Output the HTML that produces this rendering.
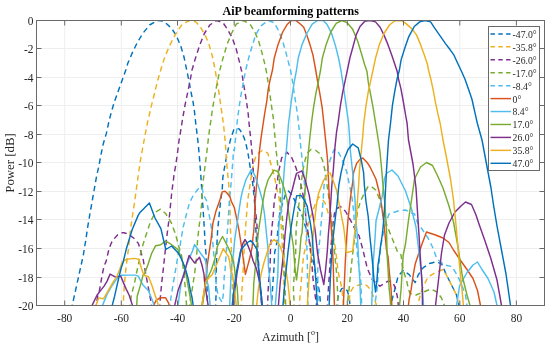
<!DOCTYPE html>
<html><head><meta charset="utf-8"><style>html,body{margin:0;padding:0;background:#fff;overflow:hidden}svg{display:block}</style></head>
<body><svg width="550" height="348" viewBox="0 0 550 348">
<defs><clipPath id="clip"><rect x="36.5" y="20.5" width="508.0" height="285.0"/></clipPath></defs>
<rect width="550" height="348" fill="#fff"/>
<g stroke="#eeeeee" stroke-width="1"><line x1="64.7" y1="20.5" x2="64.7" y2="305.5"/><line x1="121.3" y1="20.5" x2="121.3" y2="305.5"/><line x1="177.5" y1="20.5" x2="177.5" y2="305.5"/><line x1="234.2" y1="20.5" x2="234.2" y2="305.5"/><line x1="290.5" y1="20.5" x2="290.5" y2="305.5"/><line x1="347.3" y1="20.5" x2="347.3" y2="305.5"/><line x1="403.5" y1="20.5" x2="403.5" y2="305.5"/><line x1="459.8" y1="20.5" x2="459.8" y2="305.5"/><line x1="516.4" y1="20.5" x2="516.4" y2="305.5"/><line x1="36.5" y1="48.5" x2="544.5" y2="48.5"/><line x1="36.5" y1="77.5" x2="544.5" y2="77.5"/><line x1="36.5" y1="105.5" x2="544.5" y2="105.5"/><line x1="36.5" y1="134.5" x2="544.5" y2="134.5"/><line x1="36.5" y1="162.5" x2="544.5" y2="162.5"/><line x1="36.5" y1="191.5" x2="544.5" y2="191.5"/><line x1="36.5" y1="219.5" x2="544.5" y2="219.5"/><line x1="36.5" y1="248.5" x2="544.5" y2="248.5"/><line x1="36.5" y1="277.5" x2="544.5" y2="277.5"/></g>
<g clip-path="url(#clip)" fill="none" stroke-width="1.45" stroke-linejoin="round"><polyline points="72.0,310.0 72.1,305.9 73.7,298.7 76.9,284.2 80.1,269.7 83.3,255.2 85.9,239.3 87.6,227.6 89.8,214.5 92.0,202.2 96.7,175.5 98.7,167.0 101.0,154.6 103.3,143.7 106.5,132.9 108.8,122.0 111.0,113.4 114.1,102.6 118.0,91.7 121.9,80.9 125.8,70.0 127.9,63.0 132.6,52.1 137.2,42.8 142.7,33.5 149.6,25.0 157.4,20.5 163.6,21.1 171.4,28.1 176.0,35.0 180.7,45.9 184.0,57.0 186.7,70.0 189.0,80.9 190.6,90.2 192.9,101.0 194.5,111.9 195.6,122.0 196.9,132.9 198.4,145.3 199.7,160.9 200.8,174.8 201.6,187.2 202.0,196.5 202.8,204.7 203.6,217.1 204.4,229.5 205.0,242.5 205.9,252.7 206.5,265.5 207.0,285.0 207.5,310.0" stroke="#0072BD" stroke-dasharray="5.5,3.8"/><polyline points="215.3,310.0 215.6,305.2 216.1,294.1 215.9,285.1 216.1,274.4 216.7,255.3 216.8,246.5 217.6,231.0 219.1,215.5 220.7,200.0 222.2,190.3 222.8,177.9 224.3,168.6 226.7,156.2 228.8,146.4 231.0,137.7 233.7,130.0 234.8,128.7 239.2,128.9 241.4,132.2 244.1,137.7 246.3,145.3 248.2,154.5 249.9,165.5 252.2,179.5 253.8,193.4 254.6,202.7 255.8,228.0 256.9,252.0 258.5,267.5 260.0,283.0 261.6,298.5 262.0,310.0" stroke="#0072BD" stroke-dasharray="5.5,3.8"/><polyline points="271.2,310.0 271.6,303.2 272.9,283.0 274.0,267.5 274.7,252.0 276.3,246.5 277.8,231.0 279.4,215.5 282.0,205.0 285.6,194.1 288.5,191.0 292.0,195.0 296.0,203.0 298.9,208.7 300.7,211.4 302.6,217.0 305.3,226.1 307.2,230.7 308.5,236.2 312.0,255.0 316.0,275.0 319.5,292.0 320.5,304.0 321.0,310.0" stroke="#0072BD" stroke-dasharray="5.5,3.8"/><polyline points="336.0,310.0 338.5,294.3 341.8,288.6 344.3,287.8 347.5,291.1 349.2,297.6 350.5,310.0" stroke="#0072BD" stroke-dasharray="5.5,3.8"/><polyline points="389.5,310.0 392.0,300.0 395.1,288.2 397.6,278.1 400.1,274.1 403.2,270.6 406.2,272.6 409.2,274.6 412.2,278.6 415.2,282.6 418.2,275.1 421.2,270.1 423.3,267.6 429.5,263.5 435.5,262.0 441.5,263.5 446.0,274.0 452.0,286.0 456.5,295.0 459.0,305.5 460.0,310.0" stroke="#0072BD" stroke-dasharray="5.5,3.8"/><polyline points="123.0,310.0 123.2,305.1 123.6,297.1 124.4,284.2 126.0,268.1 127.6,255.2 128.4,249.5 130.5,229.1 132.7,214.5 134.9,200.0 138.2,175.5 140.6,159.2 142.9,146.8 145.2,134.4 147.6,122.0 149.5,114.0 151.4,105.7 154.5,93.3 157.6,80.9 160.7,70.0 165.1,56.0 170.6,43.6 176.0,33.5 182.2,24.2 189.7,20.5 195.9,21.9 200.5,27.3 205.2,35.1 209.0,44.4 212.1,55.2 215.0,69.0 217.0,80.9 219.3,94.8 220.8,105.7 222.4,116.5 223.6,125.0 224.5,134.4 225.6,146.8 226.4,159.2 227.6,173.2 228.4,180.0 229.0,188.8 229.8,202.7 230.1,215.5 230.5,231.0 231.2,243.0 231.5,254.6 232.0,275.0 232.5,295.0 232.8,310.0" stroke="#EDB120" stroke-dasharray="5.5,3.8"/><polyline points="241.0,310.0 241.4,303.2 241.9,290.8 242.9,275.3 243.5,260.0 244.3,249.0 245.3,231.0 246.5,215.5 247.6,201.0 249.9,185.7 252.2,170.2 255.3,157.8 258.0,153.5 262.3,150.5 267.8,153.1 270.9,164.0 274.0,174.8 276.3,185.7 277.8,193.0 279.1,198.1 280.5,215.0 282.0,240.0 283.5,270.0 284.5,310.0" stroke="#EDB120" stroke-dasharray="5.5,3.8"/><polyline points="299.5,310.0 299.6,301.6 300.0,296.0 301.1,283.0 302.3,269.6 303.5,256.0 305.4,247.9 307.0,229.3 309.5,219.0 311.8,213.7 314.7,205.7 318.6,197.1 321.0,197.5 324.8,202.6 327.9,211.9 330.2,221.2 333.0,235.0 334.9,244.8 336.5,257.2 338.0,271.2 340.0,280.0 341.8,287.8 343.4,302.5 343.8,310.0" stroke="#EDB120" stroke-dasharray="5.5,3.8"/><polyline points="348.5,310.0 350.0,292.7 354.1,286.1 358.2,285.3 363.1,283.7 366.4,285.3 370.5,289.4 373.8,297.6 376.2,304.2 377.0,310.0" stroke="#EDB120" stroke-dasharray="5.5,3.8"/><polyline points="416.5,310.0 417.5,305.5 422.0,289.0 428.0,277.0 435.5,272.5 443.0,269.5 447.5,277.0 452.0,286.0 456.5,295.0 459.0,305.5 459.8,310.0" stroke="#EDB120" stroke-dasharray="5.5,3.8"/><polyline points="95.5,310.0 96.2,305.1 97.8,295.5 99.1,292.2 100.6,284.1 102.1,275.1 104.1,266.0 106.1,261.4 108.5,251.0 110.5,245.0 112.4,240.7 117.5,234.9 122.5,232.7 124.2,232.8 128.4,234.2 134.2,238.5 138.5,243.6 141.3,253.4 143.1,259.0 145.4,272.2 147.8,284.6 150.1,297.0 151.6,305.5 152.0,310.0" stroke="#7E2F8E" stroke-dasharray="5.5,3.8"/><polyline points="159.5,310.0 159.9,304.7 160.5,295.4 161.7,283.0 163.3,269.1 164.8,255.1 166.4,240.3 167.9,227.9 169.5,215.5 171.0,200.0 171.8,191.9 173.3,181.0 173.9,175.5 175.7,165.5 177.5,153.0 179.0,140.6 180.6,131.3 182.4,120.0 185.2,104.1 187.5,93.3 189.8,82.4 192.0,70.0 195.9,56.8 199.7,45.1 204.4,33.5 209.8,25.0 216.8,20.5 223.0,22.7 227.7,29.6 232.3,38.2 236.2,49.0 239.3,61.4 241.7,71.5 243.3,82.4 244.9,91.7 246.4,101.0 248.0,111.9 249.6,128.9 250.7,137.7 251.4,146.4 252.3,155.2 253.0,165.5 253.8,181.0 254.6,193.4 255.3,209.3 256.9,223.3 257.4,238.8 258.0,252.7 259.0,270.0 260.0,285.0 261.0,298.5 261.6,305.5 262.0,310.0" stroke="#7E2F8E" stroke-dasharray="5.5,3.8"/><polyline points="267.5,310.0 267.8,298.5 268.5,283.0 270.1,267.5 270.5,248.0 271.6,231.0 273.2,215.5 274.1,203.1 275.6,193.1 277.1,183.0 278.6,171.7 281.7,157.8 287.1,152.3 291.8,157.8 295.7,167.1 298.8,176.4 301.1,185.7 303.4,196.5 305.3,211.4 306.2,220.6 307.6,229.8 308.5,235.5 310.1,247.9 311.6,260.3 313.1,279.6 314.8,292.7 316.4,304.2 316.6,310.0" stroke="#7E2F8E" stroke-dasharray="5.5,3.8"/><polyline points="327.0,310.0 329.0,280.0 331.5,240.0 333.2,221.7 334.5,213.4 337.0,208.5 340.5,206.5 345.6,211.5 348.3,216.1 351.5,222.1 354.3,227.8 358.9,235.5 362.0,246.4 365.1,258.8 367.2,268.1 372.0,279.1 376.0,283.1 380.0,286.2 384.1,283.6 388.1,281.1 392.1,281.6 395.1,287.2 397.0,295.0 398.0,301.0 398.5,310.0" stroke="#7E2F8E" stroke-dasharray="5.5,3.8"/><polyline points="129.5,310.0 131.2,296.2 132.7,290.1 134.7,282.1 136.7,272.0 138.3,265.0 141.3,250.0 145.3,237.3 150.4,222.0 155.4,212.1 160.5,209.2 165.6,213.5 171.2,222.5 175.6,234.5 178.8,246.5 181.5,255.4 183.5,270.0 185.5,290.0 186.5,305.0 187.0,310.0" stroke="#77AC30" stroke-dasharray="5.5,3.8"/><polyline points="189.3,310.0 189.6,303.2 191.2,295.4 193.0,284.0 194.5,274.4 195.6,265.1 196.6,257.0 197.4,241.9 198.9,227.9 200.5,215.5 202.0,200.0 202.0,190.3 203.6,177.9 205.1,165.5 206.7,153.1 208.5,137.5 210.1,125.1 210.8,121.2 212.3,110.3 214.6,96.4 217.0,84.0 219.7,70.5 223.8,55.2 227.7,42.8 231.5,33.5 236.2,24.2 243.2,20.5 250.1,24.2 254.8,32.0 258.7,41.3 261.8,52.1 264.9,64.5 266.4,71.5 268.6,85.5 270.2,96.4 271.7,107.2 273.3,118.1 274.4,131.1 275.3,139.9 276.1,149.7 277.1,159.3 278.6,173.3 279.8,185.0 280.3,195.1 280.8,205.1 282.2,215.5 283.3,231.0 284.0,246.5 284.0,267.5 284.8,283.0 285.6,303.2 285.8,310.0" stroke="#77AC30" stroke-dasharray="5.5,3.8"/><polyline points="293.8,310.0 294.1,303.2 293.4,287.7 294.5,270.0 295.7,252.7 296.1,228.9 297.1,219.7 298.0,210.5 299.2,202.1 300.2,193.1 301.2,183.0 303.3,168.0 305.4,158.8 307.8,152.6 310.9,149.5 315.5,150.2 319.4,153.3 322.5,160.3 324.8,169.6 325.5,176.2 327.1,185.5 328.7,196.4 331.0,215.0 333.0,235.0 334.9,255.7 336.9,276.3 337.7,296.0 338.0,310.0" stroke="#77AC30" stroke-dasharray="5.5,3.8"/><polyline points="347.0,310.0 347.5,302.5 349.2,287.8 350.8,271.4 352.5,255.0 353.5,247.9 355.1,232.4 357.4,211.9 360.5,201.0 364.4,193.3 368.2,186.3 372.1,187.1 376.0,190.2 379.1,197.9 382.0,210.0 386.0,223.0 392.0,238.0 398.0,253.0 401.1,255.0 402.2,265.0 404.2,273.1 406.7,281.1 408.2,288.2 410.0,293.5 416.0,295.0 423.5,292.0 431.0,289.0 437.0,292.0 441.5,298.0 444.5,305.5 445.0,310.0" stroke="#77AC30" stroke-dasharray="5.5,3.8"/><polyline points="170.0,310.0 170.2,304.7 171.0,297.0 173.3,283.0 175.7,269.1 178.0,255.1 179.6,249.6 181.1,238.8 183.4,226.4 186.5,214.0 189.6,202.5 193.5,195.0 198.9,188.0 202.0,187.2 203.6,195.0 206.7,201.0 209.0,214.0 211.4,227.9 212.9,244.0 214.2,259.1 215.5,274.4 216.1,283.3 218.0,295.0 220.1,299.1 222.2,302.2 223.2,295.1 223.7,287.1 224.2,277.0 225.0,270.5 225.8,259.1 226.5,249.5 226.8,240.0 227.4,231.0 228.5,215.5 229.4,200.0 229.8,196.5 231.3,181.0 232.5,165.5 233.6,150.0 234.3,150.8 235.4,139.9 236.5,131.1 237.2,121.5 239.1,107.2 241.0,94.8 243.3,82.4 245.7,70.0 248.6,58.3 251.7,47.5 255.6,35.1 261.0,25.8 268.0,20.5 274.2,22.7 278.9,31.2 282.7,41.3 285.8,52.1 288.2,61.4 290.5,70.0 292.7,82.4 294.2,93.3 296.2,105.7 297.8,116.5 298.4,122.7 300.0,137.1 300.8,147.9 302.3,160.3 303.3,170.0 304.5,185.0 305.5,205.0 306.2,227.8 306.8,245.0 307.4,265.0 307.4,279.6 307.8,300.0 308.0,310.0" stroke="#4DBEEE" stroke-dasharray="5.5,3.8"/><polyline points="318.5,310.0 317.8,290.0 317.8,266.5 318.6,251.0 320.2,235.5 321.4,219.7 322.3,210.5 323.3,197.9 324.0,185.5 326.0,175.0 328.7,165.0 331.0,157.2 334.1,149.5 337.2,150.2 341.1,157.2 344.2,165.0 346.5,171.2 349.6,185.5 352.0,197.9 353.5,210.3 354.3,221.2 356.0,240.0 358.0,260.0 360.7,279.6 361.5,300.9 362.0,310.0" stroke="#4DBEEE" stroke-dasharray="5.5,3.8"/><polyline points="374.0,310.0 377.0,290.0 379.0,263.0 381.0,245.0 384.5,227.0 389.0,214.0 392.0,213.0 398.0,211.0 405.5,210.0 411.5,213.0 414.5,214.0 417.5,222.5 422.0,229.0 428.0,238.0 432.5,247.0 437.0,259.0 444.5,265.0 452.0,266.5 456.5,274.0 461.0,283.0 465.5,295.0 467.0,305.5 467.5,310.0" stroke="#4DBEEE" stroke-dasharray="5.5,3.8"/><polyline points="153.0,310.0 154.7,303.2 156.3,300.1 160.2,297.8 165.6,297.8 168.7,303.2 170.0,310.0" stroke="#D95319"/><polyline points="201.5,310.0 202.0,305.2 204.0,292.1 205.5,282.0 207.2,265.5 209.1,252.7 211.0,240.0 212.9,223.3 216.0,210.9 219.9,200.0 222.2,191.9 225.0,191.3 226.7,192.7 229.8,196.5 231.3,201.2 234.4,207.8 236.7,218.6 239.1,231.0 240.8,242.0 242.4,252.7 243.5,260.0 245.4,274.4 248.5,262.9 250.5,255.0 252.2,246.4 253.0,237.0 253.8,231.0 254.6,215.5 255.1,203.0 256.9,181.0 258.5,165.5 259.1,154.1 260.0,146.4 261.1,137.7 262.7,126.7 263.2,123.5 264.7,113.4 266.8,101.0 268.3,88.6 270.2,79.3 272.5,70.0 274.2,58.3 278.1,44.4 282.7,32.0 287.4,24.2 291.3,20.5 295.9,20.5 300.6,24.2 303.7,27.3 306.8,35.1 309.9,44.4 313.0,55.2 315.6,69.5 317.5,80.9 319.8,93.3 322.1,107.2 323.5,120.0 324.8,132.4 326.4,147.9 327.6,160.3 328.2,172.7 328.7,185.5 329.5,201.0 330.6,218.0 331.8,235.5 332.6,251.0 333.3,266.5 333.6,279.6 334.4,304.2 334.6,310.0" stroke="#D95319"/><polyline points="343.0,310.0 343.4,304.2 344.5,280.0 345.3,262.0 346.0,250.0 346.8,235.5 348.0,220.0 350.4,197.9 352.7,182.4 353.5,172.7 356.6,163.4 359.7,159.6 362.8,158.0 366.7,161.9 369.8,166.5 372.9,172.7 376.0,179.3 379.1,191.7 381.4,204.1 383.0,216.5 384.5,229.0 386.5,250.0 388.1,257.0 389.6,275.1 391.1,289.2 392.0,310.0" stroke="#D95319"/><polyline points="408.0,310.0 409.0,300.0 411.2,289.2 413.2,275.1 415.2,264.0 418.2,255.0 422.0,244.0 426.5,232.0 435.5,235.0 443.0,238.0 449.0,242.5 453.5,250.0 459.5,259.0 467.0,269.5 473.0,278.5 477.5,290.5 480.5,305.5 481.0,310.0" stroke="#D95319"/><polyline points="101.0,310.0 102.6,305.1 107.1,294.2 111.1,287.1 115.1,281.1 119.2,276.1 121.2,275.3 128.2,275.1 135.2,275.1 138.3,276.1 140.3,280.1 143.0,285.1 148.5,290.8 151.6,298.5 154.0,304.7 154.5,310.0" stroke="#4DBEEE"/><polyline points="177.5,310.0 179.0,298.0 181.0,284.0 185.0,269.0 189.0,259.0 192.5,251.0 194.5,244.5 200.2,252.7 204.0,257.8 205.9,261.6 206.5,270.5 207.5,283.0 208.6,287.1 210.1,305.2 210.5,310.0" stroke="#4DBEEE"/><polyline points="229.5,310.0 229.7,305.2 230.7,282.0 231.3,267.5 232.8,259.1 233.8,249.5 234.7,240.0 236.0,231.0 238.3,215.5 240.6,200.0 242.2,191.9 246.0,179.5 251.5,169.4 255.3,176.4 259.2,188.8 262.3,199.6 264.7,215.5 266.2,231.0 267.8,246.5 268.5,267.5 270.1,283.0 271.6,303.2 272.0,310.0" stroke="#4DBEEE"/><polyline points="275.0,310.0 275.5,303.2 277.8,275.3 278.5,250.0 278.6,231.0 279.7,215.5 281.1,213.2 282.1,200.1 283.1,186.0 284.8,162.4 286.4,150.0 288.5,123.5 289.6,115.0 291.1,102.6 292.7,91.7 294.2,82.4 296.5,70.0 298.2,58.3 302.1,44.4 306.8,33.5 312.2,24.2 317.6,20.5 323.1,20.5 326.9,24.2 331.6,33.5 335.5,45.9 338.6,58.3 340.9,70.0 342.8,82.4 344.6,94.8 346.6,108.8 348.6,123.5 349.5,135.5 350.4,151.0 352.0,166.5 353.5,180.0 355.0,200.0 355.8,220.0 357.4,235.5 358.2,251.0 358.9,266.5 359.8,279.6 360.7,304.2 361.0,310.0" stroke="#4DBEEE"/><polyline points="371.5,310.0 372.3,290.0 372.9,266.5 374.1,251.0 375.2,235.5 376.0,221.0 379.1,208.8 382.2,196.4 384.5,178.0 387.0,173.0 392.0,170.0 398.0,176.0 405.5,191.0 411.5,209.0 416.0,227.0 419.0,253.0 421.0,270.0 422.0,280.0 423.5,305.5 424.0,310.0" stroke="#4DBEEE"/><polyline points="456.0,310.0 456.5,305.5 459.5,286.0 467.0,272.5 473.0,265.0 477.5,262.0 482.0,269.5 488.0,278.5 494.0,292.0 497.0,305.5 497.5,310.0" stroke="#4DBEEE"/><polyline points="136.5,310.0 137.2,296.2 139.3,289.1 141.3,282.1 143.0,275.1 144.7,273.7 148.5,262.9 151.6,253.5 155.5,245.8 160.2,245.0 165.6,241.1 171.0,244.2 178.0,249.6 181.5,258.5 185.0,269.1 187.3,281.5 189.6,293.9 191.2,303.2 191.5,310.0" stroke="#77AC30"/><polyline points="201.5,310.0 202.5,305.0 204.0,295.0 205.1,287.1 206.5,280.7 211.6,269.3 214.8,259.1 217.4,246.4 220.5,240.0 222.5,236.5 224.4,240.0 228.2,247.6 230.9,254.0 233.5,261.6 234.5,268.0 235.5,278.2 237.2,287.1 238.2,305.2 238.5,310.0" stroke="#77AC30"/><polyline points="252.5,310.0 253.0,303.2 253.8,283.0 255.3,267.5 256.2,259.1 256.9,246.5 258.5,231.0 260.8,215.5 263.0,201.0 265.0,190.0 268.0,180.0 270.1,176.4 274.0,170.2 277.8,171.7 281.7,181.0 284.6,190.0 287.1,200.1 289.0,215.5 291.0,231.0 293.4,246.5 294.9,267.5 296.5,279.9 298.0,267.5 299.8,252.0 301.0,237.0 302.1,232.6 303.0,218.8 303.9,205.0 305.4,185.5 307.0,170.0 308.5,151.0 310.1,135.5 311.7,121.2 313.6,107.2 315.9,93.3 318.2,82.4 320.6,70.0 322.3,58.3 326.2,44.4 330.8,32.0 336.2,23.4 341.7,20.5 347.1,22.7 352.5,28.9 357.7,41.3 361.5,53.7 364.6,64.5 367.0,71.5 368.3,82.4 370.7,94.8 373.0,107.2 375.4,122.0 377.6,135.5 379.9,151.0 381.4,166.5 383.0,185.5 385.0,205.0 386.5,230.0 387.1,255.0 388.1,270.1 389.1,288.2 390.0,296.0 391.0,310.0" stroke="#77AC30"/><polyline points="399.0,310.0 399.5,305.5 401.1,289.2 402.2,270.1 403.2,255.0 405.5,244.0 408.5,220.0 411.5,200.0 414.5,179.0 420.5,167.0 426.5,162.5 432.5,165.5 437.0,174.5 443.0,188.0 449.0,206.0 453.5,222.0 458.0,247.0 462.5,277.0 467.0,295.0 470.0,305.5 470.5,310.0" stroke="#77AC30"/><polyline points="92.0,310.0 92.2,305.1 97.0,295.2 100.1,291.1 104.1,286.1 107.1,281.1 110.1,274.1 115.6,277.1 118.2,276.6 120.7,276.1 123.2,282.1 126.2,289.1 129.2,295.2 132.4,305.1 133.0,310.0" stroke="#7E2F8E"/><polyline points="174.0,310.0 174.9,304.7 178.0,290.8 181.9,279.9 184.1,274.1 187.1,262.1 189.1,255.5 194.5,262.9 199.5,257.2 202.1,265.5 204.0,274.4 204.6,282.0 206.1,292.1 208.1,305.2 208.6,310.0" stroke="#7E2F8E"/><polyline points="233.0,310.0 233.2,305.2 235.2,287.1 237.2,272.0 238.4,265.5 240.9,250.2 243.0,243.2 245.0,239.5 246.2,241.3 248.7,247.6 251.3,254.6 253.2,261.0 256.2,268.0 258.7,278.2 261.0,292.0 262.5,310.0" stroke="#7E2F8E"/><polyline points="278.0,310.0 278.6,303.2 280.2,283.0 282.0,267.5 283.8,250.0 285.0,235.0 287.1,215.0 289.1,200.1 292.2,190.0 294.7,180.0 296.5,173.3 301.9,170.9 305.2,180.0 309.2,195.1 310.8,205.0 312.7,214.2 314.1,223.4 315.4,232.6 317.5,253.0 320.5,270.0 323.8,284.5 325.4,271.4 326.5,260.0 327.3,251.0 328.3,235.3 329.7,218.8 330.6,205.0 331.8,185.5 333.3,170.0 334.9,147.9 336.5,132.4 338.1,122.7 340.4,105.7 342.8,91.7 345.1,80.9 347.4,70.0 350.0,57.5 353.0,46.7 356.1,35.1 360.0,26.5 364.6,21.4 370.1,20.5 375.5,21.9 380.1,27.3 384.0,35.1 387.9,44.4 391.8,55.2 394.9,64.5 397.2,71.5 398.6,79.3 400.9,88.6 403.2,101.0 405.6,115.0 407.1,123.5 408.5,140.0 413.0,164.0 416.0,188.0 417.5,212.0 419.0,235.0 420.2,255.0 421.2,270.1 422.3,289.2 422.5,310.0" stroke="#7E2F8E"/><polyline points="435.0,310.0 435.5,305.5 438.5,280.0 441.5,253.0 444.5,235.0 449.0,223.0 455.0,212.0 461.0,206.0 465.5,202.0 471.5,204.5 476.0,215.0 479.0,224.0 485.0,241.0 491.0,259.0 497.0,280.0 501.5,305.5 502.0,310.0" stroke="#7E2F8E"/><polyline points="95.0,310.0 96.2,305.1 98.6,297.9 103.5,298.7 105.1,296.2 109.1,289.1 113.1,282.1 117.1,276.1 120.2,268.0 122.2,262.0 126.8,259.2 134.0,258.4 138.9,259.2 141.3,268.0 143.9,275.3 148.5,276.8 151.6,284.6 154.7,293.9 157.8,303.2 158.5,310.0" stroke="#EDB120"/><polyline points="201.5,310.0 202.0,305.2 204.0,292.1 205.6,282.0 207.5,279.5 212.3,274.4 216.7,264.2 220.5,255.3 223.3,248.6 225.8,252.7 228.4,256.5 229.6,261.0 230.5,269.1 232.6,275.0 234.2,287.1 236.2,305.2 236.5,310.0" stroke="#EDB120"/><polyline points="256.0,310.0 256.9,303.2 258.5,287.7 260.8,275.3 263.9,262.9 267.0,252.7 270.1,243.4 274.0,239.6 277.1,241.9 280.2,246.5 282.5,252.7 285.6,267.5 287.9,283.0 289.5,298.5 290.2,310.0" stroke="#EDB120"/><polyline points="307.0,310.0 307.4,304.2 309.0,279.6 310.1,266.5 311.6,251.0 313.2,235.5 314.0,225.0 315.4,214.2 316.4,205.0 318.6,193.3 323.3,180.9 327.9,173.9 330.2,173.1 333.3,180.9 336.5,190.2 339.3,205.0 340.7,211.4 342.0,218.8 343.5,226.0 344.7,235.5 346.5,252.6 352.7,251.0 354.3,235.5 355.8,226.0 356.4,216.5 357.4,201.0 358.6,185.5 359.5,170.0 361.3,151.0 362.8,135.5 363.7,123.5 366.0,105.7 368.3,91.7 370.7,80.9 373.0,70.0 375.5,58.3 379.4,44.4 384.0,33.5 389.5,25.0 394.9,20.8 401.1,20.5 405.7,23.4 412.0,28.9 416.6,35.1 420.5,44.4 424.4,55.2 427.5,64.5 428.5,70.0 430.9,79.3 433.2,90.2 435.5,102.6 437.8,113.4 440.2,123.5 443.0,140.0 446.0,155.0 450.5,179.0 453.5,200.0 456.5,230.0 459.5,265.0 462.5,295.0 463.4,305.5 464.0,310.0" stroke="#EDB120"/><polyline points="111.5,310.0 112.3,305.1 114.6,296.2 117.1,285.1 119.2,276.1 121.2,268.0 123.2,262.0 126.2,249.3 132.3,229.2 138.3,215.1 140.0,212.4 149.4,203.0 155.0,218.0 160.9,228.7 165.8,249.5 171.6,246.0 178.0,252.7 181.1,258.2 185.0,267.5 188.1,278.4 190.4,290.8 192.0,297.1 193.0,304.2 193.5,310.0" stroke="#0072BD"/><polyline points="231.8,310.0 232.2,305.2 234.2,287.1 236.5,272.0 238.5,261.6 240.5,251.5 243.6,246.4 247.5,242.5 250.6,240.6 252.6,242.5 255.1,246.4 257.0,249.5 258.5,267.5 260.0,283.0 261.6,298.5 262.5,310.0" stroke="#0072BD"/><polyline points="282.5,310.0 283.3,301.6 284.8,283.0 286.4,267.5 288.0,252.0 289.5,240.0 291.0,227.9 292.9,216.0 294.8,205.0 296.7,195.6 301.2,195.6 304.2,200.1 307.2,206.1 308.5,214.2 310.4,223.4 312.2,235.3 313.2,251.0 314.8,266.5 315.8,280.0 317.2,304.2 317.6,310.0" stroke="#0072BD"/><polyline points="329.0,310.0 329.2,304.2 330.3,279.6 331.0,266.5 331.8,251.0 333.4,235.3 335.2,218.8 337.0,205.0 338.8,185.5 341.1,172.7 344.2,158.8 348.1,149.5 352.7,144.0 358.2,147.9 361.3,160.3 363.6,172.7 364.4,185.5 365.9,201.0 368.2,216.5 369.8,235.5 371.4,251.0 372.9,266.5 374.0,280.0 375.5,292.0 377.0,279.6 378.0,265.0 379.5,255.0 380.7,245.0 382.2,235.5 383.8,220.0 385.0,200.0 386.5,170.0 388.5,140.0 390.5,123.5 392.4,105.7 394.7,91.7 397.0,79.3 399.4,70.0 401.1,59.9 405.0,47.5 408.8,36.6 414.3,26.5 419.7,21.9 425.1,20.5 430.6,21.9 434.7,28.1 440.1,35.8 445.5,43.6 450.2,49.8 454.0,55.2 457.9,63.8 461.8,72.0 465.0,79.3 468.9,90.2 472.0,99.5 475.1,113.4 477.4,123.5 482.0,140.0 486.5,164.0 491.0,188.0 493.5,205.0 497.0,226.0 501.5,250.0 506.0,274.0 510.5,305.5 511.0,310.0" stroke="#0072BD"/></g>
<g stroke="#6a6a6a" stroke-width="1" fill="none"><rect x="36.5" y="20.5" width="508.0" height="285.0" fill="none"/><line x1="64.70" y1="305.5" x2="64.70" y2="300.5"/><line x1="64.70" y1="20.5" x2="64.70" y2="25.5"/><line x1="121.30" y1="305.5" x2="121.30" y2="300.5"/><line x1="121.30" y1="20.5" x2="121.30" y2="25.5"/><line x1="177.50" y1="305.5" x2="177.50" y2="300.5"/><line x1="177.50" y1="20.5" x2="177.50" y2="25.5"/><line x1="234.20" y1="305.5" x2="234.20" y2="300.5"/><line x1="234.20" y1="20.5" x2="234.20" y2="25.5"/><line x1="290.50" y1="305.5" x2="290.50" y2="300.5"/><line x1="290.50" y1="20.5" x2="290.50" y2="25.5"/><line x1="347.30" y1="305.5" x2="347.30" y2="300.5"/><line x1="347.30" y1="20.5" x2="347.30" y2="25.5"/><line x1="403.50" y1="305.5" x2="403.50" y2="300.5"/><line x1="403.50" y1="20.5" x2="403.50" y2="25.5"/><line x1="459.80" y1="305.5" x2="459.80" y2="300.5"/><line x1="459.80" y1="20.5" x2="459.80" y2="25.5"/><line x1="516.40" y1="305.5" x2="516.40" y2="300.5"/><line x1="516.40" y1="20.5" x2="516.40" y2="25.5"/><line x1="36.5" y1="48.50" x2="41.5" y2="48.50"/><line x1="544.5" y1="48.50" x2="539.5" y2="48.50"/><line x1="36.5" y1="77.50" x2="41.5" y2="77.50"/><line x1="544.5" y1="77.50" x2="539.5" y2="77.50"/><line x1="36.5" y1="105.50" x2="41.5" y2="105.50"/><line x1="544.5" y1="105.50" x2="539.5" y2="105.50"/><line x1="36.5" y1="134.50" x2="41.5" y2="134.50"/><line x1="544.5" y1="134.50" x2="539.5" y2="134.50"/><line x1="36.5" y1="162.50" x2="41.5" y2="162.50"/><line x1="544.5" y1="162.50" x2="539.5" y2="162.50"/><line x1="36.5" y1="191.50" x2="41.5" y2="191.50"/><line x1="544.5" y1="191.50" x2="539.5" y2="191.50"/><line x1="36.5" y1="219.50" x2="41.5" y2="219.50"/><line x1="544.5" y1="219.50" x2="539.5" y2="219.50"/><line x1="36.5" y1="248.50" x2="41.5" y2="248.50"/><line x1="544.5" y1="248.50" x2="539.5" y2="248.50"/><line x1="36.5" y1="277.50" x2="41.5" y2="277.50"/><line x1="544.5" y1="277.50" x2="539.5" y2="277.50"/></g>
<g font-family="Liberation Serif, serif" font-size="12" fill="#262626"><text transform="translate(64.7,321.8) scale(0.95,1.12)" text-anchor="middle">-80</text><text transform="translate(121.3,321.8) scale(0.95,1.12)" text-anchor="middle">-60</text><text transform="translate(177.5,321.8) scale(0.95,1.12)" text-anchor="middle">-40</text><text transform="translate(234.2,321.8) scale(0.95,1.12)" text-anchor="middle">-20</text><text transform="translate(290.5,321.8) scale(0.95,1.12)" text-anchor="middle">0</text><text transform="translate(347.3,321.8) scale(0.95,1.12)" text-anchor="middle">20</text><text transform="translate(403.5,321.8) scale(0.95,1.12)" text-anchor="middle">40</text><text transform="translate(459.8,321.8) scale(0.95,1.12)" text-anchor="middle">60</text><text transform="translate(516.4,321.8) scale(0.95,1.12)" text-anchor="middle">80</text><text transform="translate(33.4,310.00) scale(0.95,1.12)" text-anchor="end">-20</text><text transform="translate(33.4,282.00) scale(0.95,1.12)" text-anchor="end">-18</text><text transform="translate(33.4,253.00) scale(0.95,1.12)" text-anchor="end">-16</text><text transform="translate(33.4,224.00) scale(0.95,1.12)" text-anchor="end">-14</text><text transform="translate(33.4,196.00) scale(0.95,1.12)" text-anchor="end">-12</text><text transform="translate(33.4,167.00) scale(0.95,1.12)" text-anchor="end">-10</text><text transform="translate(33.4,139.00) scale(0.95,1.12)" text-anchor="end">-8</text><text transform="translate(33.4,110.00) scale(0.95,1.12)" text-anchor="end">-6</text><text transform="translate(33.4,82.00) scale(0.95,1.12)" text-anchor="end">-4</text><text transform="translate(33.4,53.00) scale(0.95,1.12)" text-anchor="end">-2</text><text transform="translate(33.4,25.00) scale(0.95,1.12)" text-anchor="end">0</text></g>
<text transform="translate(290.7,15) scale(1,1.07)" text-anchor="middle" font-family="Liberation Serif, serif" font-size="12" font-weight="bold" fill="#000">AiP beamforming patterns</text>
<text transform="translate(14.2,163) scale(1,1.07) rotate(-90)" text-anchor="middle" font-family="Liberation Serif, serif" font-size="12" fill="#262626">Power [dB]</text>
<text transform="translate(262,341.3) scale(1,1.07)" font-family="Liberation Serif, serif" font-size="12" fill="#262626">Azimuth [<tspan font-size="8" dy="-5.6">o</tspan><tspan dy="5.6">]</tspan></text>
<rect x="488.5" y="26.5" width="51.0" height="144.0" fill="#fff" stroke="#6a6a6a" stroke-width="1"/><line x1="490.5" y1="33.90" x2="511" y2="33.90" stroke="#0072BD" stroke-width="1.45" stroke-dasharray="4.4,3.4"/><text transform="translate(512.6,37.80) scale(1,1.07)" font-family="Liberation Serif, serif" font-size="9.7" fill="#262626">-47.0°</text><line x1="490.5" y1="46.84" x2="511" y2="46.84" stroke="#EDB120" stroke-width="1.45" stroke-dasharray="4.4,3.4"/><text transform="translate(512.6,50.74) scale(1,1.07)" font-family="Liberation Serif, serif" font-size="9.7" fill="#262626">-35.8°</text><line x1="490.5" y1="59.78" x2="511" y2="59.78" stroke="#7E2F8E" stroke-width="1.45" stroke-dasharray="4.4,3.4"/><text transform="translate(512.6,63.68) scale(1,1.07)" font-family="Liberation Serif, serif" font-size="9.7" fill="#262626">-26.0°</text><line x1="490.5" y1="72.72" x2="511" y2="72.72" stroke="#77AC30" stroke-width="1.45" stroke-dasharray="4.4,3.4"/><text transform="translate(512.6,76.62) scale(1,1.07)" font-family="Liberation Serif, serif" font-size="9.7" fill="#262626">-17.0°</text><line x1="490.5" y1="85.66" x2="511" y2="85.66" stroke="#4DBEEE" stroke-width="1.45" stroke-dasharray="4.4,3.4"/><text transform="translate(512.6,89.56) scale(1,1.07)" font-family="Liberation Serif, serif" font-size="9.7" fill="#262626">-8.4°</text><line x1="490.5" y1="98.60" x2="511" y2="98.60" stroke="#D95319" stroke-width="1.45"/><text transform="translate(512.6,102.50) scale(1,1.07)" font-family="Liberation Serif, serif" font-size="9.7" fill="#262626">0°</text><line x1="490.5" y1="111.54" x2="511" y2="111.54" stroke="#4DBEEE" stroke-width="1.45"/><text transform="translate(512.6,115.44) scale(1,1.07)" font-family="Liberation Serif, serif" font-size="9.7" fill="#262626">8.4°</text><line x1="490.5" y1="124.48" x2="511" y2="124.48" stroke="#77AC30" stroke-width="1.45"/><text transform="translate(512.6,128.38) scale(1,1.07)" font-family="Liberation Serif, serif" font-size="9.7" fill="#262626">17.0°</text><line x1="490.5" y1="137.42" x2="511" y2="137.42" stroke="#7E2F8E" stroke-width="1.45"/><text transform="translate(512.6,141.32) scale(1,1.07)" font-family="Liberation Serif, serif" font-size="9.7" fill="#262626">26.0°</text><line x1="490.5" y1="150.36" x2="511" y2="150.36" stroke="#EDB120" stroke-width="1.45"/><text transform="translate(512.6,154.26) scale(1,1.07)" font-family="Liberation Serif, serif" font-size="9.7" fill="#262626">35.8°</text><line x1="490.5" y1="163.30" x2="511" y2="163.30" stroke="#0072BD" stroke-width="1.45"/><text transform="translate(512.6,167.20) scale(1,1.07)" font-family="Liberation Serif, serif" font-size="9.7" fill="#262626">47.0°</text>
</svg></body></html>
